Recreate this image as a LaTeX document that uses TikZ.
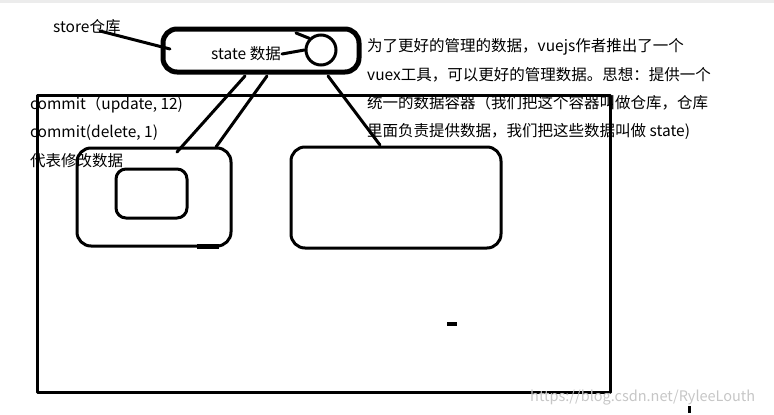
\documentclass[tikz,border=0pt]{standalone}
\usepackage{fontspec}
\setmainfont{Noto Sans CJK SC}
\begin{document}
\begin{tikzpicture}[x=1pt,y=-1pt,
  txt/.style={anchor=west,inner sep=0pt,font=\fontsize{15.5}{17}\selectfont},
  pen/.style={line width=3pt,line cap=round,line join=round}]
\useasboundingbox (0,0) rectangle (774,415);
\fill[gray!15] (0,0) rectangle (774,3);
\node[txt] (store) at (53,27) {store仓库};
\draw[pen,rounded corners=14pt,line width=5pt] (163,29) rectangle (359,72);
\node[txt] (state) at (211,54) {state 数据};
\node[draw,circle,line width=3pt,minimum size=30pt,inner sep=0pt] (c) at (321,50) {};
\draw[pen] (100,31) -- (170,49);
\draw[pen] (282,54) -- (c.west);
\draw[pen] (296,33) -- (c.north west);
\draw[pen] (37,95) rectangle (610,392);
\draw[pen,rounded corners=14pt] (77,148) rectangle (231,246);
\draw[pen,rounded corners=10pt] (116,169) rectangle (187,218);
\draw[line width=5pt] (197,246) -- (219,246);
\draw[pen,rounded corners=14pt] (291,147) rectangle (501,248);
\draw[pen] (245,76) -- (177,152);
\draw[pen] (267,76) -- (216,147);
\draw[pen] (328,76) -- (380,145);
\draw[line width=4pt] (447,324) -- (457,324);
\draw[line width=3pt] (689,406) -- (689,413);
\node[txt] (t1) at (30,105) {commit（update, 12)};
\node[txt] (t2) at (30,133) {commit(delete, 1)};
\node[txt] (t3) at (30,161) {代表修改数据};
\node[txt] (r1) at (367,47) {为了更好的管理的数据，vuejs作者推出了一个};
\node[txt] (r2) at (367,75) {vuex工具，可以更好的管理数据。思想：提供一个};
\node[txt] (r3) at (367,103) {统一的数据容器（我们把这个容器叫做仓库，仓库};
\node[txt] (r4) at (367,131) {里面负责提供数据，我们把这些数据叫做 state)};
\node[anchor=west,inner sep=0pt,text=gray!45,font=\fontsize{14.5}{15}\selectfont] (wm) at (530,398) {https://blog.csdn.net/RyleeLouth};
\end{tikzpicture}
\end{document}
